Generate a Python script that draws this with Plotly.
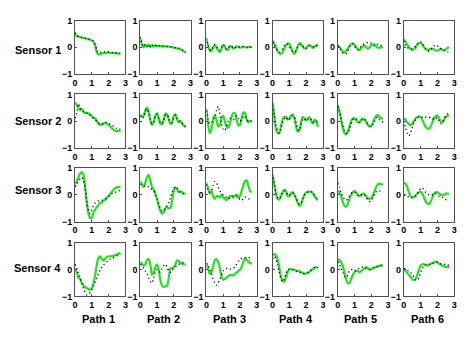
import plotly.graph_objects as go

# ---------------- data ----------------
TIME = [0.0, 0.1, 0.2, 0.3, 0.4, 0.5, 0.6, 0.7, 0.8, 0.9, 1.0, 1.1, 1.2, 1.3,
        1.4, 1.5, 1.6, 1.7, 1.8, 1.9, 2.0, 2.1, 2.2, 2.3, 2.4, 2.5, 2.6, 2.7]
SENSORS = ["Sensor 1", "Sensor 2", "Sensor 3", "Sensor 4"]
PATHS = ["Path 1", "Path 2", "Path 3", "Path 4", "Path 5", "Path 6"]
X_TICKS = [0, 1, 2, 3]
Y_TICKS = [-1, 0, 1]

# Sensor 1 (green = model, dotted = measured)
S1P1_MODEL = [0.5,0.42,0.4,0.38,0.37,0.35,0.33,0.32,0.3,0.28,0.25,0.2,0.05,-0.2,-0.27,-0.25,-0.23,-0.22,-0.21,-0.2,-0.2,-0.21,-0.21,-0.22,-0.22,-0.23,-0.24,-0.25]
S1P1_MEAS = [0.55,0.45,0.4,0.4,0.36,0.36,0.33,0.33,0.3,0.3,0.27,0.22,0.1,-0.1,-0.22,-0.2,-0.18,-0.17,-0.17,-0.16,-0.17,-0.18,-0.19,-0.19,-0.2,-0.21,-0.22,-0.23]
S1P2_MODEL = [0.35,0.1,0.0,0.1,0.02,0.1,0.0,0.08,0.02,0.07,0.03,0.06,0.03,0.05,0.02,0.04,0.02,0.03,0.0,0.01,-0.02,-0.02,-0.05,-0.05,-0.08,-0.12,-0.16,-0.2]
S1P2_MEAS = [0.4,0.15,0.02,0.12,0.04,0.1,0.02,0.08,0.04,0.08,0.04,0.07,0.04,0.05,0.04,0.05,0.03,0.03,0.02,0.02,0.0,-0.02,-0.05,-0.04,-0.07,-0.1,-0.14,-0.18]
S1P3_MODEL = [0.3,0.05,-0.12,-0.15,0.0,0.08,0.0,-0.12,-0.18,-0.05,0.08,0.03,-0.1,-0.08,0.04,0.03,-0.05,-0.03,0.03,0.02,-0.02,0.0,0.02,0.0,-0.01,0.0,0.01,0.0]
S1P3_MEAS = [0.35,0.1,-0.08,-0.12,0.02,0.1,0.03,-0.08,-0.12,0.0,0.1,0.05,-0.06,-0.05,0.05,0.04,-0.03,-0.02,0.03,0.02,0.0,0.0,0.02,0.01,0.0,0.0,0.01,0.0]
S1P4_MODEL = [0.25,0.15,0.0,-0.15,-0.23,-0.25,-0.18,-0.05,0.08,0.14,0.12,0.0,-0.18,-0.25,-0.15,0.05,0.15,0.12,0.02,-0.05,-0.03,0.05,0.08,0.03,-0.02,0.02,0.07,0.1]
S1P4_MEAS = [0.2,0.1,-0.02,-0.12,-0.18,-0.15,-0.05,0.08,0.12,0.1,0.02,-0.1,-0.15,-0.18,-0.12,0.0,0.08,0.1,0.05,-0.02,-0.05,0.0,0.05,0.06,0.02,0.0,0.03,0.08]
S1P5_MODEL = [0.05,0.02,-0.08,-0.17,-0.2,-0.15,-0.05,0.05,0.12,0.15,0.1,0.0,-0.08,-0.1,-0.05,0.03,0.05,0.0,-0.05,0.0,0.08,0.12,0.1,0.03,-0.02,-0.02,0.0,0.0]
S1P5_MEAS = [0.05,0.0,-0.1,-0.2,-0.25,-0.25,-0.15,0.0,0.1,0.12,0.05,-0.05,-0.1,-0.05,0.05,0.1,0.12,0.15,0.18,0.15,0.15,0.1,0.05,0.1,0.12,0.1,0.05,0.0]
S1P6_MODEL = [0.3,0.2,0.1,0.0,-0.07,-0.1,-0.08,0.0,0.1,0.15,0.15,0.1,0.0,-0.08,-0.1,-0.08,-0.05,-0.05,-0.08,-0.12,-0.13,-0.1,-0.05,-0.1,-0.12,-0.08,-0.03,0.0]
S1P6_MEAS = [0.25,0.05,-0.02,-0.03,-0.05,-0.05,-0.02,0.05,0.12,0.18,0.2,0.15,0.05,-0.05,-0.12,-0.15,-0.1,0.0,0.05,0.08,0.05,0.0,-0.05,-0.1,-0.12,-0.15,-0.18,-0.15]

# Sensor 2
S2P1_MODEL = [0.7,0.6,0.5,0.4,0.45,0.35,0.3,0.32,0.28,0.25,0.18,0.12,0.1,0.0,-0.1,-0.15,-0.12,-0.08,-0.07,-0.1,-0.15,-0.2,-0.28,-0.33,-0.37,-0.38,-0.37,-0.33]
S2P1_MEAS = [0.1,0.3,0.65,0.5,0.4,0.35,0.3,0.3,0.25,0.22,0.15,0.1,0.05,-0.02,-0.08,-0.12,-0.12,-0.1,-0.05,-0.05,-0.08,-0.12,-0.15,-0.2,-0.25,-0.28,-0.3,-0.3]
S2P2_MODEL = [0.25,0.15,0.2,0.4,0.5,0.35,0.05,-0.15,-0.05,0.2,0.3,0.1,-0.1,-0.12,0.05,0.28,0.25,0.05,-0.12,-0.05,0.2,0.25,0.05,-0.05,0.0,-0.1,-0.18,-0.22]
S2P2_MEAS = [0.2,0.1,0.15,0.35,0.45,0.3,0.05,-0.1,-0.02,0.18,0.25,0.1,-0.05,-0.1,0.05,0.22,0.25,0.1,-0.05,-0.05,0.15,0.22,0.1,0.0,0.0,-0.08,-0.15,-0.2]
S2P3_MODEL = [0.45,-0.1,-0.45,-0.3,0.0,0.2,0.05,-0.2,-0.15,0.1,0.2,0.0,-0.2,-0.25,-0.1,0.15,0.3,0.3,0.05,-0.15,-0.15,0.1,0.32,0.3,0.05,-0.05,0.0,0.0]
S2P3_MEAS = [0.4,0.05,-0.1,-0.05,0.1,0.2,0.4,0.55,0.3,-0.1,-0.3,-0.35,-0.2,0.0,0.1,0.1,0.05,0.1,0.2,0.1,0.0,0.05,0.15,0.2,0.1,0.0,0.0,0.0]
S2P4_MODEL = [0.7,0.2,-0.3,-0.45,-0.45,-0.2,0.05,0.15,0.15,0.05,0.1,0.2,0.25,0.1,-0.2,-0.4,-0.35,-0.05,0.15,0.1,0.02,0.1,0.15,0.0,-0.1,0.05,0.0,-0.22]
S2P4_MEAS = [0.6,0.25,-0.15,-0.35,-0.45,-0.3,-0.05,0.1,0.15,0.05,0.05,0.15,0.2,0.15,-0.05,-0.3,-0.35,-0.15,0.05,0.1,0.0,0.05,0.1,0.05,-0.05,0.0,0.0,-0.1]
S2P5_MODEL = [0.6,0.35,0.05,-0.25,-0.45,-0.5,-0.4,-0.2,0.0,0.1,0.1,0.05,-0.05,-0.05,0.05,0.1,0.05,-0.05,-0.15,-0.2,-0.18,-0.05,0.1,0.2,0.22,0.15,0.1,0.08]
S2P5_MEAS = [0.55,0.4,0.15,-0.15,-0.35,-0.45,-0.45,-0.3,-0.1,0.05,0.1,0.08,0.0,-0.05,0.0,0.08,0.08,0.0,-0.1,-0.2,-0.2,-0.12,0.0,0.1,0.15,0.05,0.0,-0.05]
S2P6_MODEL = [0.1,0.05,-0.05,-0.12,-0.15,-0.1,0.0,0.1,0.15,0.18,0.15,0.05,-0.1,-0.22,-0.28,-0.28,-0.2,-0.05,0.1,0.18,0.2,0.1,-0.02,-0.05,0.05,0.15,0.2,0.22]
S2P6_MEAS = [0.0,-0.25,-0.45,-0.55,-0.45,-0.25,-0.05,0.05,0.1,0.15,0.15,0.15,0.18,0.15,0.15,0.15,0.1,0.1,0.05,0.1,0.12,0.0,-0.1,-0.05,0.1,0.2,0.28,0.32]

# Sensor 3
S3P1_MODEL = [0.4,0.5,0.65,0.8,0.85,0.75,0.3,-0.3,-0.7,-0.88,-0.85,-0.65,-0.55,-0.45,-0.38,-0.3,-0.28,-0.22,-0.18,-0.1,-0.05,0.05,0.12,0.2,0.25,0.28,0.3,0.3]
S3P1_MEAS = [0.3,0.4,0.5,0.6,0.65,0.55,0.2,-0.25,-0.6,-0.7,-0.55,-0.4,-0.3,-0.25,-0.22,-0.2,-0.2,-0.18,-0.15,-0.1,-0.05,0.0,0.05,0.08,0.1,0.12,0.15,0.18]
S3P2_MODEL = [0.5,0.4,0.3,0.45,0.65,0.75,0.55,0.3,0.2,0.05,-0.15,-0.4,-0.6,-0.7,-0.65,-0.5,-0.45,-0.5,-0.48,-0.2,0.15,0.28,0.2,0.1,0.12,0.1,0.05,0.05]
S3P2_MEAS = [0.4,0.38,0.35,0.3,0.3,0.3,0.25,0.2,0.15,0.0,-0.15,-0.35,-0.5,-0.6,-0.6,-0.5,-0.4,-0.3,-0.1,0.1,0.25,0.3,0.25,0.15,0.1,0.05,0.05,0.05]
S3P3_MODEL = [0.45,0.25,0.05,0.15,-0.05,-0.15,-0.05,-0.05,-0.1,0.0,-0.1,-0.15,-0.2,-0.12,-0.05,-0.05,-0.1,-0.02,0.0,-0.1,-0.05,0.15,0.35,0.5,0.55,0.35,0.15,0.1]
S3P3_MEAS = [0.4,0.2,0.1,0.15,0.35,0.5,0.45,0.3,0.15,0.05,0.0,-0.05,-0.1,-0.15,-0.1,-0.05,-0.05,-0.05,-0.05,-0.1,-0.18,-0.2,-0.15,-0.08,-0.1,-0.15,-0.15,-0.15]
S3P4_MODEL = [0.75,0.4,0.05,-0.15,-0.18,-0.05,0.1,0.2,0.15,-0.05,-0.05,0.05,0.1,0.0,-0.15,-0.3,-0.42,-0.35,-0.15,0.0,0.1,0.1,0.13,0.12,0.05,-0.05,-0.15,-0.2]
S3P4_MEAS = [0.8,0.45,0.1,-0.1,-0.15,-0.05,0.1,0.15,0.12,0.0,-0.02,0.05,0.08,0.0,-0.1,-0.25,-0.35,-0.3,-0.15,0.0,0.05,0.1,0.12,0.12,0.08,0.0,-0.1,-0.15]
S3P5_MODEL = [0.15,0.1,-0.05,-0.25,-0.4,-0.45,-0.35,-0.15,0.0,0.1,0.15,0.1,0.0,-0.05,0.0,0.05,0.03,-0.05,-0.12,-0.15,-0.13,0.0,0.15,0.3,0.4,0.42,0.4,0.38]
S3P5_MEAS = [0.45,0.3,0.1,-0.05,-0.15,-0.2,-0.15,-0.05,0.05,0.1,0.1,0.05,-0.02,-0.05,0.0,0.02,0.0,-0.1,-0.2,-0.25,-0.22,-0.1,0.05,0.12,0.15,0.15,0.12,0.1]
S3P6_MODEL = [0.45,0.42,0.3,0.1,-0.05,-0.1,-0.08,-0.02,0.05,0.1,0.12,0.05,-0.1,-0.25,-0.33,-0.35,-0.25,-0.1,0.05,0.1,0.1,0.05,0.0,-0.02,0.0,0.05,0.05,0.03]
S3P6_MEAS = [0.0,-0.02,-0.05,-0.08,-0.1,-0.1,-0.08,-0.05,0.05,0.15,0.25,0.25,0.18,0.1,0.05,0.0,-0.02,0.0,0.05,0.05,0.0,-0.05,-0.1,-0.1,-0.15,-0.18,-0.2,-0.2]

# Sensor 4
S4P1_MODEL = [0.05,-0.1,-0.3,-0.35,-0.5,-0.6,-0.65,-0.7,-0.72,-0.75,-0.7,-0.5,-0.2,0.2,0.45,0.5,0.4,0.35,0.42,0.48,0.5,0.5,0.5,0.52,0.55,0.58,0.6,0.62]
S4P1_MEAS = [0.2,0.05,-0.15,-0.3,-0.5,-0.7,-0.85,-0.95,-0.9,-0.85,-0.75,-0.6,-0.45,-0.3,-0.15,0.0,0.1,0.18,0.25,0.3,0.35,0.4,0.42,0.45,0.5,0.52,0.55,0.58]
S4P2_MODEL = [0.28,0.22,0.15,0.2,0.35,0.4,0.2,-0.2,-0.1,0.1,0.2,0.0,-0.4,-0.6,-0.65,-0.62,-0.6,-0.3,0.05,0.05,0.1,0.2,0.35,0.32,0.25,0.22,0.2,0.2]
S4P2_MEAS = [0.2,0.15,0.05,-0.05,-0.15,-0.3,-0.45,-0.5,-0.3,-0.1,0.0,-0.05,-0.1,0.05,0.15,0.2,0.1,-0.05,-0.1,0.0,0.05,0.1,0.15,0.2,0.22,0.25,0.28,0.3]
S4P3_MODEL = [0.2,0.05,-0.15,-0.1,0.1,0.35,0.4,0.3,0.05,-0.25,-0.38,-0.35,-0.3,-0.25,-0.2,-0.2,-0.22,-0.15,-0.12,-0.05,0.0,0.1,0.3,0.42,0.38,0.3,0.25,0.22]
S4P3_MEAS = [0.25,0.15,0.0,-0.15,-0.35,-0.5,-0.58,-0.5,-0.35,-0.2,-0.05,0.0,0.05,0.05,0.02,0.02,0.05,0.1,0.2,0.3,0.38,0.42,0.45,0.45,0.45,0.45,0.45,0.45]
S4P4_MODEL = [0.55,0.58,0.55,0.4,0.1,-0.25,-0.42,-0.45,-0.3,-0.1,0.0,0.02,0.0,0.0,-0.03,-0.05,-0.05,-0.1,-0.12,-0.15,-0.15,-0.12,-0.08,-0.03,0.02,0.07,0.1,0.05]
S4P4_MEAS = [0.4,0.5,0.4,0.2,-0.1,-0.35,-0.45,-0.35,-0.15,0.0,0.02,0.02,0.0,-0.02,-0.05,-0.08,-0.1,-0.12,-0.15,-0.15,-0.12,-0.1,-0.05,0.0,0.05,0.08,0.1,0.08]
S4P5_MODEL = [0.4,0.35,0.28,0.15,-0.1,-0.35,-0.52,-0.5,-0.35,-0.2,-0.1,-0.05,-0.05,-0.1,-0.05,0.0,0.05,0.1,0.05,0.0,0.02,0.05,0.08,0.1,0.12,0.15,0.17,0.15]
S4P5_MEAS = [0.3,0.2,0.05,-0.1,-0.25,-0.3,-0.2,-0.05,0.0,0.0,-0.05,-0.02,0.02,0.05,0.08,0.1,0.08,0.05,0.02,0.0,0.03,0.06,0.1,0.12,0.13,0.15,0.15,0.15]
S4P6_MODEL = [0.0,-0.05,-0.12,-0.2,-0.28,-0.35,-0.4,-0.35,-0.2,0.0,0.15,0.2,0.2,0.18,0.15,0.18,0.22,0.25,0.28,0.3,0.28,0.22,0.18,0.15,0.12,0.1,0.1,0.12]
S4P6_MEAS = [0.05,0.02,-0.02,-0.05,-0.1,-0.18,-0.28,-0.38,-0.4,-0.3,-0.1,0.05,0.15,0.18,0.2,0.2,0.2,0.22,0.25,0.28,0.28,0.25,0.22,0.2,0.2,0.2,0.18,0.15]

MODEL = [
    [S1P1_MODEL, S1P2_MODEL, S1P3_MODEL, S1P4_MODEL, S1P5_MODEL, S1P6_MODEL],
    [S2P1_MODEL, S2P2_MODEL, S2P3_MODEL, S2P4_MODEL, S2P5_MODEL, S2P6_MODEL],
    [S3P1_MODEL, S3P2_MODEL, S3P3_MODEL, S3P4_MODEL, S3P5_MODEL, S3P6_MODEL],
    [S4P1_MODEL, S4P2_MODEL, S4P3_MODEL, S4P4_MODEL, S4P5_MODEL, S4P6_MODEL],
]
MEAS = [
    [S1P1_MEAS, S1P2_MEAS, S1P3_MEAS, S1P4_MEAS, S1P5_MEAS, S1P6_MEAS],
    [S2P1_MEAS, S2P2_MEAS, S2P3_MEAS, S2P4_MEAS, S2P5_MEAS, S2P6_MEAS],
    [S3P1_MEAS, S3P2_MEAS, S3P3_MEAS, S3P4_MEAS, S3P5_MEAS, S3P6_MEAS],
    [S4P1_MEAS, S4P2_MEAS, S4P3_MEAS, S4P4_MEAS, S4P5_MEAS, S4P6_MEAS],
]

# ---------------- layout ----------------
W, H = 474, 347
COL_LEFT = [73, 139, 206, 273, 339, 406]
ROW_TOP = [16, 92, 168, 245]
PW, PH = 51, 55
SENSOR_Y = [46, 119.5, 191, 271]
PATH_Y = 323.5
SENSOR_X = 35

FONT = "Liberation Sans, Arial, sans-serif"
GREEN = "#22e022"
FRAME = "#505050"

fig = go.Figure()
layout = dict(
    width=W, height=H,
    margin=dict(l=0, r=0, t=0, b=0),
    paper_bgcolor="white", plot_bgcolor="white",
    showlegend=False,
    annotations=[],
)

for r in range(4):
    for c in range(6):
        k = r * 6 + c + 1
        xn = "x" if k == 1 else f"x{k}"
        yn = "y" if k == 1 else f"y{k}"
        fig.add_trace(go.Scatter(
            x=TIME, y=MODEL[r][c], xaxis=xn, yaxis=yn, mode="lines",
            line=dict(color=GREEN, width=2.2, shape="spline", smoothing=0.8),
            hoverinfo="skip"))
        fig.add_trace(go.Scatter(
            x=TIME, y=MEAS[r][c], xaxis=xn, yaxis=yn, mode="lines",
            line=dict(color="#111111", width=1.3, dash="1.3px,2.7px",
                      shape="spline", smoothing=0.8),
            hoverinfo="skip"))
        left = COL_LEFT[c]
        top = ROW_TOP[r]
        tickfont = dict(family=FONT, size=9, color="black", weight="bold")
        common = dict(showline=True, mirror=True, linecolor=FRAME, linewidth=1,
                      showgrid=False, zeroline=False, ticks="inside", ticklen=2,
                      tickcolor=FRAME, tickfont=tickfont, fixedrange=True)
        layout["xaxis" if k == 1 else f"xaxis{k}"] = dict(
            domain=[left / W, (left + PW) / W], range=[0, 3], tickvals=X_TICKS,
            anchor=yn, **common)
        layout["yaxis" if k == 1 else f"yaxis{k}"] = dict(
            domain=[1 - (top + PH) / H, 1 - top / H], range=[-1, 1], tickvals=Y_TICKS,
            anchor=xn, **common)

label_font = dict(family=FONT, size=11, color="black", weight="bold")
for r, name in enumerate(SENSORS):
    layout["annotations"].append(dict(
        text=name, xref="paper", yref="paper", x=SENSOR_X / W, y=1 - SENSOR_Y[r] / H,
        xanchor="center", yanchor="middle", showarrow=False, font=label_font))
for c, name in enumerate(PATHS):
    layout["annotations"].append(dict(
        text=name, xref="paper", yref="paper", x=(COL_LEFT[c] + PW / 2 - 2) / W,
        y=1 - PATH_Y / H, xanchor="center", yanchor="middle", showarrow=False,
        font=label_font))

fig.update_layout(**layout)
fig.write_html("out.html")
